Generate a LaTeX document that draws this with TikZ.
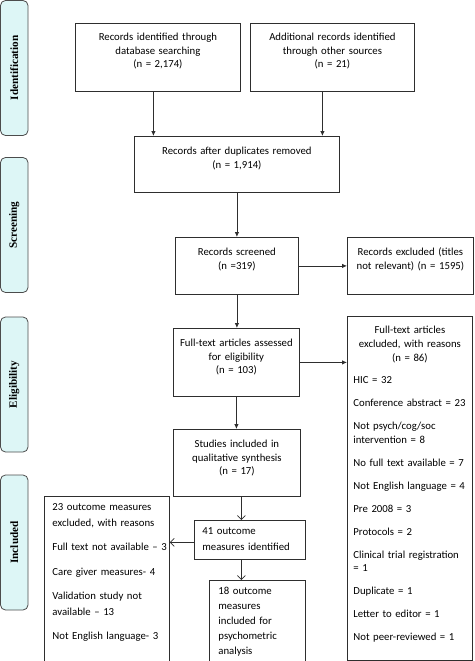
\documentclass[tikz,border=0pt]{standalone}
\usepackage{fontspec}
\setmainfont{Carlito}
\newfontfamily\stagefont{Liberation Serif}
\usepackage{xcolor}
\usetikzlibrary{arrows.meta, positioning}

\definecolor{stagecyan}{HTML}{DDF6F6}
\definecolor{edgegray}{HTML}{2E2E2E}

\tikzset{
  box/.style={draw=edgegray, line width=0.8pt, anchor=north west,
    inner xsep=4pt, inner ysep=0pt, align=center,
    font=\fontsize{10.75}{13.5}\selectfont},
  listbox/.style={box, align=left, font=\fontsize{10.75}{15.5}\selectfont},
  stage/.style={draw=black!70, line width=0.8pt, fill=stagecyan,
    rounded corners=5pt, rotate=90, minimum width=135pt,
    minimum height=27.5pt, inner sep=0pt,
    font=\stagefont\bfseries\fontsize{11.2}{13}\selectfont},
  arr/.style={-{Latex[length=5pt,width=4.5pt]}, line width=0.8pt, draw=edgegray},
  barb/.style={-{Straight Barb[length=4pt,width=8pt]}, line width=0.7pt, draw=edgegray},
}

\begin{document}
\begin{tikzpicture}[x=1pt, y=-1pt]
  \useasboundingbox (0,0) rectangle (474,661);

  % stage labels down the left side
  \node[stage] (ident) at (14.25,68)  {Identification};
  \node[stage] (screen) at (14.25,225) {Screening};
  \node[stage] (elig) at (14.25,384.5) {Eligibility};
  \node[stage] (incl) at (14.25,542.5) {Included};

  % identification
  \node[box, text width=157pt, text height=17.5pt, text depth=50.5pt]
    (recdb) at (75,23) {Records identified through\\database searching\\(n = 2,174)};
  \node[box, text width=156pt, text height=17.5pt, text depth=50.5pt]
    (recoth) at (250,23) {Additional records identified\\through other sources\\(n = 21)};
  \node[box, text width=197pt, text height=18.5pt, text depth=37.5pt]
    (dup) at (134,136) {Records after duplicates removed\\(n = 1,914)};

  % screening
  \node[box, text width=115pt, text height=18.5pt, text depth=38.5pt]
    (scr) at (175,237) {Records screened\\(n =319)};
  \node[box, text width=118pt, text height=18.5pt, text depth=38.5pt]
    (excl) at (347,237) {Records excluded (titles\\not relevant) (n = 1595)};

  % eligibility
  \node[box, text width=118pt, text height=18.5pt, text depth=49.5pt]
    (ftart) at (173,328) {Full-text articles assessed\\for eligibility\\(n = 103)};
  \node[listbox, inner xsep=6pt, text width=113pt, text height=17.5pt,
    text depth=326.5pt, font=\fontsize{10.75}{13.7}\selectfont]
    (ftex) at (347,316) {{\centering Full-text articles\\excluded, with reasons\\(n = 86)\par}
      \vspace{8.3pt}
      HIC = 32\\[9.3pt]
      Conference abstract = 23\\[9.3pt]
      Not psych/cog/soc\\intervention = 8\\[9.3pt]
      No full text available = 7\\[9.3pt]
      Not English language = 4\\[9.3pt]
      Pre 2008 = 3\\[9.3pt]
      Protocols = 2\\[9.3pt]
      \mbox{Clinical trial registration}\\= 1\\[9.3pt]
      Duplicate = 1\\[9.3pt]
      Letter to editor = 1\\[9.3pt]
      Not peer-reviewed = 1};
  \node[box, text width=119pt, text height=18.5pt, text depth=48.5pt]
    (studies) at (173,429) {Studies included in\\qualitative synthesis\\(n = 17)};

  % included
  \node[listbox, inner xsep=8pt, text width=109pt, text height=14.5pt, text depth=157.5pt]
    (ex23) at (44,496) {23 outcome measures\\excluded, with reasons\\[9pt]
      \mbox{Full text not available -- 3}\\[9pt]
      Care giver measures- 4\\[9pt]
      Validation study not\\available -- 13\\[9pt]
      \mbox{Not English language- 3}};
  \node[listbox, inner xsep=8pt, text width=95pt, text height=14.5pt, text depth=24.5pt]
    (o41) at (194,520) {41 outcome\\measures identified};
  \node[listbox, inner xsep=9pt, text width=78pt, text height=14.5pt, text depth=73.5pt,
    font=\fontsize{10.75}{15}\selectfont]
    (o18) at (209,580) {18 outcome\\measures\\included for\\psychometric\\analysis};

  % connectors
  \draw[arr] ([xshift=-4.5pt]recdb.south) -- ([xshift=-4.5pt]recdb.south |- dup.north);
  \draw[arr] ([xshift=-10pt]recoth.south) -- ([xshift=-10pt]recoth.south |- dup.north);
  \draw[arr] (dup.south) -- (dup.south |- scr.north);
  \draw[arr] (scr.east) -- (scr.east -| excl.west);
  \draw[arr] (scr.south) -- (scr.south |- ftart.north);
  \draw[arr] (ftart.east) -- (ftart.east -| ftex.west);
  \draw[arr] (ftart.south) -- (ftart.south |- studies.north);
  \draw[barb] ([xshift=4.5pt]studies.south) -- ([xshift=4.5pt]studies.south |- o41.north);
  \draw[barb] ([yshift=-2.5pt]o41.west) -- ([yshift=-2.5pt]o41.west -| ex23.east);
  \draw[barb] ([xshift=-8.5pt]o41.south) -- ([xshift=-8.5pt]o41.south |- o18.north);
\end{tikzpicture}
\end{document}
